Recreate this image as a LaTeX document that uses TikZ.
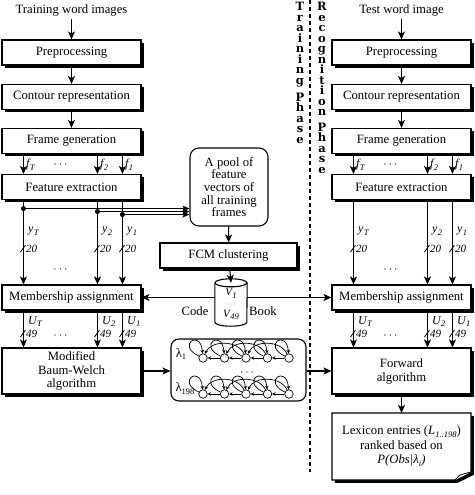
\documentclass[tikz,border=0pt]{standalone}
\usepackage{fontspec}
\setmainfont{Liberation Serif}
\newfontfamily\phasefont{DejaVu Serif}
\usetikzlibrary{arrows.meta,shadows,calc}
\newcommand{\isub}[2]{{\itshape #1}\kern0.3pt\raisebox{-0.5ex}{\fontsize{8.5}{9}\selectfont\itshape #2}}
\begin{document}
\begin{tikzpicture}[x=1pt,y=-1pt,
  every node/.style={font=\fontsize{12.7}{14}\selectfont},
  shad/.style={general shadow={shadow xshift=2.8pt, shadow yshift=-2.8pt, fill=black}},
  box/.style={draw, line width=1.1pt, fill=white, shad,
    minimum height=25pt, inner sep=1pt},
  lbox/.style={box, minimum width=139pt},
  arr/.style={line width=1.1pt, -{Stealth[length=8pt,width=7pt,inset=2pt]}},
  sarr/.style={line width=0.9pt, -{Stealth[length=7pt,width=6pt,inset=1.5pt]}},
  lab/.style={anchor=west, inner sep=0.5pt, font=\fontsize{12}{13}\selectfont},
  num/.style={anchor=west, inner sep=0.5pt, font=\fontsize{11}{12}\selectfont\itshape},
  dotsn/.style={inner sep=0pt, font=\fontsize{12}{13}\selectfont},
  hst/.style={draw, line width=0.7pt, circle, minimum size=8.5pt, inner sep=0pt},
  harr/.style={line width=0.7pt, -{Stealth[length=3.5pt,width=3.5pt]}},
  phase/.style={anchor=north, align=center, inner sep=0pt,
    font=\phasefont\bfseries\fontsize{11.5}{10.5}\selectfont}
]
\useasboundingbox (0,0) rectangle (474,495);

% ---------------- left column ----------------
\node (in1) at (71.5,10) {Training word images};
\node[lbox] (pre1) at (71.5,52.5) {Preprocessing};
\node[lbox] (con1) at (71.5,97) {Contour representation};
\node[lbox] (fg1) at (71.5,141) {Frame generation};
\node[lbox] (fe1) at (71.5,187) {Feature extraction};
\node[lbox] (ma1) at (71.5,297.5) {Membership assignment};
\node[lbox, minimum height=46pt, align=center, font=\fontsize{12.7}{13.5}\selectfont] (mbw) at (71.5,371) {Modified\\Baum-Welch\\algorithm};

% ---------------- right column ----------------
\node (in2) at (401.5,10) {Test word image};
\node[lbox] (pre2) at (401.5,52.5) {Preprocessing};
\node[lbox] (con2) at (401.5,97) {Contour representation};
\node[lbox] (fg2) at (401.5,141) {Frame generation};
\node[lbox] (fe2) at (401.5,187) {Feature extraction};
\node[lbox] (ma2) at (401.5,297.5) {Membership assignment};
\node[lbox, minimum height=46pt, align=center] (fwd) at (401.5,371) {Forward\\algorithm};

\foreach \s in {1,2}{
  \draw[arr] (in\s) -- (pre\s);
  \draw[arr] (pre\s) -- (con\s);
  \draw[arr] (con\s) -- (fg\s);
}

% lexicon document box
\coordinate (lexnw) at (332,413);
\coordinate (lexse) at (471,480);
\draw[line width=1.1pt, fill=white, shad]
  (lexnw) -- (lexnw -| lexse) -- ($(lexse)+(0,-8)$) -- ($(lexse)+(-16,0)$) -- (lexse -| lexnw) -- cycle;
\draw[line width=0.8pt, fill=white] ($(lexse)+(0,-8)$) -- ($(lexse)+(-11,-5)$) -- ($(lexse)+(-16,0)$);
\node[align=center, font=\fontsize{12.7}{14.5}\selectfont] (lex) at ($(lexnw)!0.5!(lexse)$) {Lexicon entries (\isub{L}{1..198})\\ranked based on\\{\itshape P(Obs|λ\raisebox{-0.5ex}{\fontsize{8.5}{9}\selectfont i})}};
\draw[arr] (fwd) -- (lex.north |- lexnw);

% column connectors
\foreach \s/\t in {1/mbw,2/fwd}{
  \foreach \o/\k in {22/T,96/2,121/1}{
    \draw[arr] ([xshift=\o pt]fg\s.south west) -- ([xshift=\o pt]fe\s.north west);
    \node[lab] at ($(fg\s.south west)+(\o+2,10.5)$) {\isub{f}{\k}};
    \draw[arr] ([xshift=\o pt]fe\s.south west) -- ([xshift=\o pt]ma\s.north west);
    \node[lab] at ($(fe\s.south west)+(\o+4,31)$) {\isub{y}{\k}};
    \draw[line width=0.8pt] ($(fe\s.south west)+(\o-3,52)$) -- ($(fe\s.south west)+(\o+2,45)$);
    \node[num] at ($(fe\s.south west)+(\o+2,48.5)$) {20};
    \draw[arr] ([xshift=\o pt]ma\s.south west) -- (\t.north west -| {$(ma\s.south west)+(\o,0)$});
    \node[lab] at ($(ma\s.south west)+(\o+4,11)$) {\isub{U}{\k}};
    \draw[line width=0.8pt] ($(ma\s.south west)+(\o-3,26.5)$) -- ($(ma\s.south west)+(\o+2,19.5)$);
    \node[num] at ($(ma\s.south west)+(\o+2,23)$) {49};
  }
  \node[dotsn] at ($(fg\s.south west)+(59,11)$) {$\cdots$};
  \node[dotsn] at ($(fe\s.south west)+(59,70)$) {$\cdots$};
  \node[dotsn] at ($(ma\s.south west)+(59,25)$) {$\cdots$};
}

% ---------------- middle ----------------
\node[draw, line width=1.1pt, rounded corners=9pt, minimum width=78pt, minimum height=78pt,
  align=center, inner sep=1pt, font=\fontsize{12.7}{12.7}\selectfont] (pool) at (229,187)
  {A pool of\\feature\\vectors of\\all training\\frames};

% taps from feature lines into pool
\foreach \o/\dy/\n in {22/8.5/a,96/11.5/b,121/14.5/c}{
  \fill ($(fe1.south west)+(\o,\dy)$) coordinate (tap\n) circle (2.5pt);
  \draw[sarr] (tap\n) -- (tap\n -| pool.west);
}

\node[box, minimum width=137pt] (fcm) at (228.5,255.5) {FCM clustering};
\draw[arr] (pool) -- (fcm);

% code book cylinder
\node[minimum width=32pt, minimum height=39pt, inner sep=0pt] (cb) at (231,302.5) {};
\draw[line width=1.1pt, fill=white] (cb.north west) -- (cb.south west)
   arc[start angle=180, end angle=360, x radius=16pt, y radius=4pt] -- (cb.north east);
\draw[line width=1.1pt, fill=white] (cb.north) ellipse[x radius=16pt, y radius=4pt];
\node[inner sep=0pt, font=\fontsize{11}{11}\selectfont] (v1) at (231,293.5) {\isub{V}{1}};
\node[inner sep=0pt, font=\fontsize{8}{8}\selectfont] (vd) at (231,305) {$\cdots$};
\node[inner sep=0pt, font=\fontsize{11}{11}\selectfont] (v49) at (231,315) {\isub{V}{49}};
\draw[arr] (fcm) -- (cb.north);
\node (code) at (195,311) {Code};
\node (book) at (263,311) {Book};
\draw[arr] (ma1.east -| cb.west) -- (ma1.east);
\draw[arr] (ma2.west -| cb.east) -- (ma2.west);

% HMM models box
\node[draw, line width=1.1pt, rounded corners=8pt, minimum width=135pt, minimum height=62pt] (hmm) at (238.5,370) {};
\draw[arr] (mbw.east) -- (mbw.east -| hmm.west);
\draw[arr] (hmm.east |- fwd.west) -- (fwd.west);
\node[inner sep=0pt] (lam1) at (181,354) {λ\raisebox{-0.5ex}{\fontsize{8.5}{9}\selectfont 1}};
\node[inner sep=0pt] (lam2) at (185,389) {λ\raisebox{-0.5ex}{\fontsize{8.5}{9}\selectfont 198}};
\node[dotsn] (hd) at (247,373) {$\cdots$};
\foreach \r/\yy in {a/358,b/394}{
  \foreach \i/\xx in {1/203,2/224.5,3/246,4/267.5,5/289}{
    \node[hst] (h\r\i) at (\xx,\yy) {};
    \draw[harr] (h\r\i) to[out=155,in=95,looseness=14] (h\r\i);
  }
  \foreach \i/\j in {2/1,3/2,4/3,5/4}{
    \draw[harr] (h\r\i) -- (h\r\j);
  }
  \foreach \i/\j in {3/1,4/2,5/3}{
    \draw[harr] (h\r\i) to[bend right=65] (h\r\j);
  }
}

% phase separator
\coordinate (septop) at (310,0);
\coordinate (sepbot) at (310,472);
\draw[line width=1.2pt, dash pattern=on 4pt off 3pt] (septop) -- (sepbot);
\node[phase] (tp) at (300,2) {T\\r\\a\\i\\n\\i\\n\\g\\[5pt]P\\h\\a\\s\\e};
\node[phase] (rp) at (322,2) {R\\e\\c\\o\\g\\n\\i\\t\\i\\o\\n\\[5pt]P\\h\\a\\s\\e};
\end{tikzpicture}
\end{document}
